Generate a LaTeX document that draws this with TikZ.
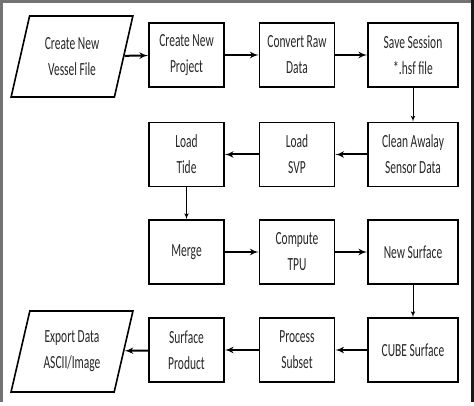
\documentclass[tikz,border=0pt]{standalone}
\usepackage{fontspec}
\newfontfamily\boxfont[FakeStretch=0.62]{Carlito}
\usepackage{tikz}
\usetikzlibrary{arrows,positioning,shapes.geometric}

\begin{document}
\begin{tikzpicture}[x=1pt, y=-1pt, ->, >=latex', line width=2pt,
		box/.style={draw, rectangle, line width=1.6pt, minimum width=75pt, minimum height=64pt,
			align=center, font=\boxfont\fontsize{18.5}{26}\selectfont, text=black!85, inner sep=2pt},
		wide/.style={box, minimum width=90pt},
		io/.style={draw, trapezium, trapezium left angle=73.5, trapezium right angle=106.5,
			trapezium stretches=true, line width=1.6pt, minimum width=122pt, minimum height=81pt,
			align=center, font=\boxfont\fontsize{18.5}{26}\selectfont, text=black!85}]
		\useasboundingbox (0,0) rectangle (474,406);
		% frame
		\draw[-, line width=3pt, black!55] (0,1.5) -- (474,1.5);
		\draw[-, line width=3pt, black!55] (1.5,0) -- (1.5,402);
		\draw[-, line width=2.5pt, black!90] (472.5,0) -- (472.5,402);

		\node[io]   (vessel)  at (72, 56.5)   {Create New\\Vessel File};
		\node[box]  (project) at (186.5, 55)  {Create New\\Project};
		\node[box]  (convert) at (297, 55)    {Convert Raw\\Data};
		\node[wide] (save)    at (413, 55)    {Save Session\\*.hsf file};

		\node[box]  (tide)    at (186.5, 154.5) {Load\\Tide};
		\node[box]  (svp)     at (297, 154.5)   {Load\\SVP};
		\node[wide] (clean)   at (413, 154.5)   {Clean Awalay\\Sensor Data};

		\node[box]  (merge)   at (186.5, 252) {Merge};
		\node[box]  (tpu)     at (297, 252)   {Compute\\TPU};
		\node[wide] (surface) at (413, 252)   {New Surface};

		\node[io]   (export)  at (72, 351.5)   {Export Data\\ASCII/Image};
		\node[box]  (product) at (186.5, 350)  {Surface\\Product};
		\node[box]  (subset)  at (297, 350)    {Process\\Subset};
		\node[wide] (cube)    at (413, 350)    {CUBE Surface};

		% top row
		\path
			(vessel) edge (project)
			(project) edge (convert)
			(convert) edge (save)
			(save) edge[line width=1pt] (clean);
		% second row
		\path
			(clean) edge (svp)
			(svp) edge (tide)
			(tide) edge[line width=1pt] (merge);
		% third row
		\path
			(merge) edge (tpu)
			(tpu) edge (surface)
			(surface) edge[line width=1pt] (cube);
		% bottom row
		\path
			(cube) edge (subset)
			(subset) edge (product)
			(product) edge (export);
	\end{tikzpicture}
\end{document}
